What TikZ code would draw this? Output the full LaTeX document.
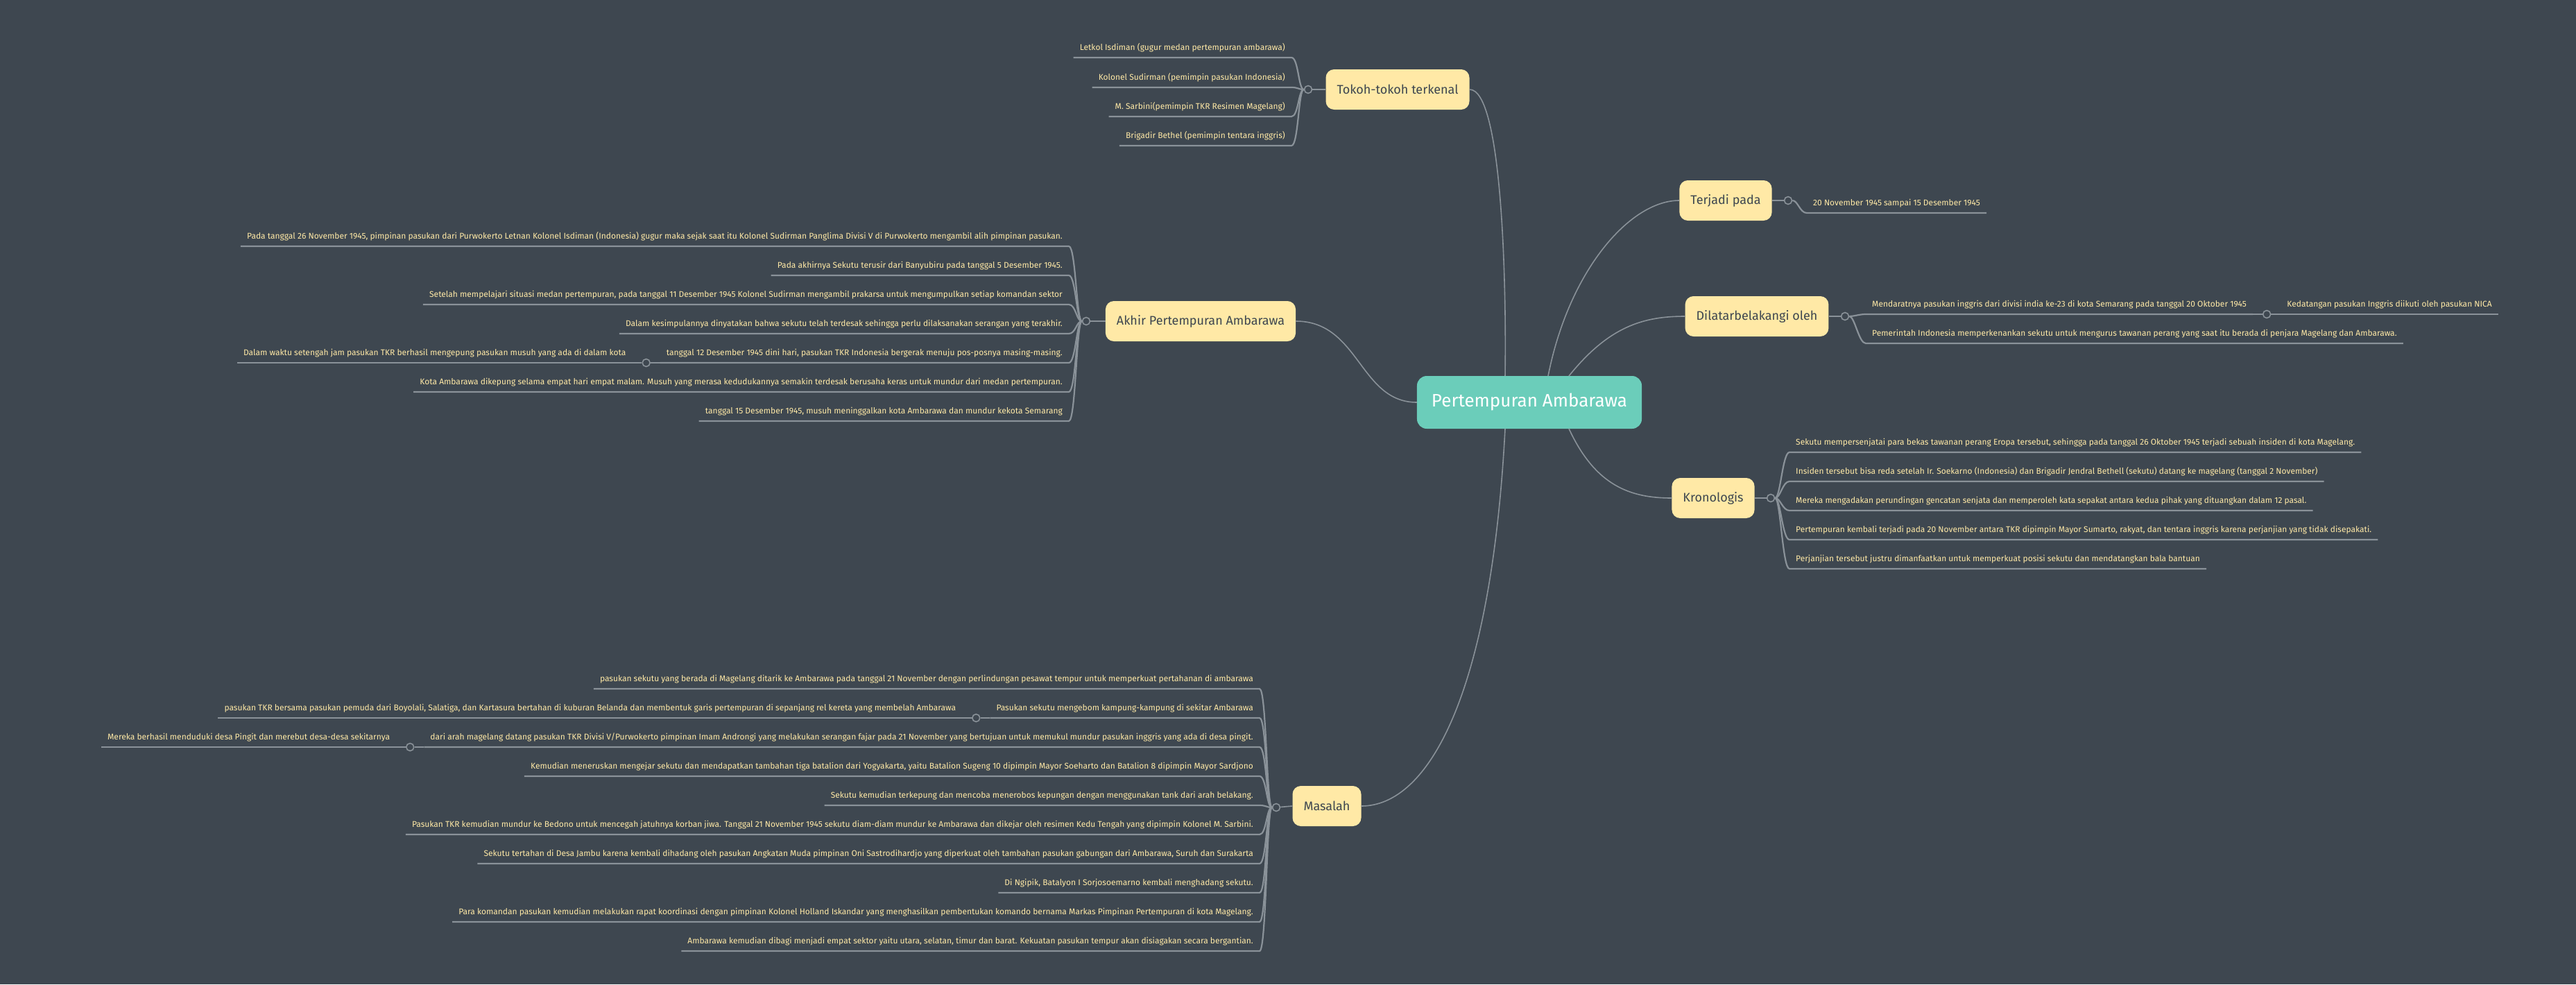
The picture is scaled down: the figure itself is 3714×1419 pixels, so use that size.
\documentclass[tikz,border=0pt]{standalone}
\usepackage{fontspec}
\setmainfont{Fira Sans}
\usetikzlibrary{calc}
\definecolor{bg}{HTML}{3E4750}
\definecolor{ln}{HTML}{8A9299}
\definecolor{mn}{HTML}{FFE9A6}
\definecolor{tl}{HTML}{6BCDBA}
\begin{document}
\begin{tikzpicture}[x=1pt,y=-1pt,
 leafL/.style={anchor=south east,inner xsep=9pt,inner ysep=8pt,text=mn,font=\fontsize{12}{14}\selectfont},
 leafR/.style={anchor=south west,inner xsep=9pt,inner ysep=8pt,text=mn,font=\fontsize{12}{14}\selectfont},
 mainbox/.style={fill=mn,text=bg,rounded corners=12pt,minimum height=58pt,inner xsep=16pt,font=\fontsize{18}{20}\selectfont},
 junc/.style={circle,draw=ln,fill=bg,line width=1.6pt,inner sep=0pt,minimum size=11pt},
 ul/.style={draw=ln,line width=2.2pt},
 br/.style={draw=ln,line width=1.6pt}]
\fill[bg] (0,0) rectangle (3714,1419);
\useasboundingbox (0,0) rectangle (3714,1419);
% centre
\node[fill=tl,text=white,rounded corners=14pt,minimum height=76pt,inner xsep=21pt,font=\fontsize{26}{28}\selectfont] (c) at (2205,580) {Pertempuran Ambarawa};
% main nodes
\node[mainbox] (tok) at (2015,129) {Tokoh-tokoh terkenal};
\node[mainbox] (ter) at (2488,289) {Terjadi pada};
\node[mainbox] (dil) at (2533,456) {Dilatarbelakangi oleh};
\node[mainbox] (kro) at (2470,718) {Kronologis};
\node[mainbox] (akh) at (1731,463) {Akhir Pertempuran Ambarawa};
\node[mainbox] (mas) at (1913,1162) {Masalah};
% branches from centre
\coordinate (c1) at (2170,542);\coordinate (c2) at (2232,542);\coordinate (c3) at (2262,542);
\coordinate (c4) at (2262,618);\coordinate (c5) at (2170,618);
\draw[br] (tok.east) .. controls (2165,129) and (2172,400) .. (c1);
\draw[br] (c2) .. controls (2262,390) and (2350,289) .. (ter.west);
\draw[br] (c3) .. controls (2320,470) and (2370,456) .. (dil.west);
\draw[br] (c4) .. controls (2300,700) and (2350,718) .. (kro.west);
\draw[br] (c.west) .. controls (1960,580) and (1960,463) .. (akh.east);
\draw[br] (c5) .. controls (2150,1000) and (2060,1162) .. (mas.east);
% helper macros
\newcommand{\linkL}[2]{\draw[ul] (#1) .. controls ($(#1)+(-14,0)$) and ($(#2.south east)+(10,0)$) .. (#2.south east) -- (#2.south west);}
\newcommand{\linkR}[2]{\draw[ul] (#1) .. controls ($(#1)+(14,0)$) and ($(#2.south west)+(-10,0)$) .. (#2.south west) -- (#2.south east);}
% ---------- Tokoh
\node[junc] (jt) at (1886,129) {};
\draw[br] (tok.west) -- (jt);
\node[leafL] (t1) at (1862,83) {Letkol Isdiman (gugur medan pertempuran ambarawa)};
\node[leafL] (t2) at (1862,126) {Kolonel Sudirman (pemimpin pasukan Indonesia)};
\node[leafL] (t3) at (1862,168) {M. Sarbini(pemimpin TKR Resimen Magelang)};
\node[leafL] (t4) at (1862,210) {Brigadir Bethel (pemimpin tentara inggris)};
\foreach \n in {t1,t2,t3,t4}{\linkL{jt}{\n}}
% ---------- Terjadi
\node[junc] (jr) at (2578,289) {};
\draw[br] (ter.east) -- (jr);
\node[leafR] (r1) at (2605,307) {20 November 1945 sampai 15 Desember 1945};
\linkR{jr}{r1}
% ---------- Dilatarbelakangi
\node[junc] (jd) at (2660,456) {};
\draw[br] (dil.east) -- (jd);
\node[leafR] (d1) at (2690,453) {Mendaratnya pasukan inggris dari divisi india ke-23 di kota Semarang pada tanggal 20 Oktober 1945};
\node[leafR] (d2) at (2690,495) {Pemerintah Indonesia memperkenankan sekutu untuk mengurus tawanan perang yang saat itu berada di penjara Magelang dan Ambarawa.};
\linkR{jd}{d1}\linkR{jd}{d2}
\node[junc] (jd2) at ($(d1.south east)+(20,0)$) {};
\draw[ul] (d1.south east) -- (jd2);
\node[leafR] (d11) at ($(jd2)+(20,0)$) {Kedatangan pasukan Inggris diikuti oleh pasukan NICA};
\draw[ul] (jd2) -- (d11.south west) -- (d11.south east);
% ---------- Kronologis
\node[junc] (jk) at (2553,718) {};
\draw[br] (kro.east) -- (jk);
\node[leafR] (k1) at (2580,652) {Sekutu mempersenjatai para bekas tawanan perang Eropa tersebut, sehingga pada tanggal 26 Oktober 1945 terjadi sebuah insiden di kota Magelang.};
\node[leafR] (k2) at (2580,694) {Insiden tersebut bisa reda setelah Ir. Soekarno (Indonesia) dan Brigadir Jendral Bethell (sekutu) datang ke magelang (tanggal 2 November)};
\node[leafR] (k3) at (2580,736) {Mereka mengadakan perundingan gencatan senjata dan memperoleh kata sepakat antara kedua pihak yang dituangkan dalam 12 pasal.};
\node[leafR] (k4) at (2580,778) {Pertempuran kembali terjadi pada 20 November antara TKR dipimpin Mayor Sumarto, rakyat, dan tentara inggris karena perjanjian yang tidak disepakati.};
\node[leafR] (k5) at (2580,820) {Perjanjian tersebut justru dimanfaatkan untuk memperkuat posisi sekutu dan mendatangkan bala bantuan};
\foreach \n in {k1,k2,k3,k4,k5}{\linkR{jk}{\n}}
% ---------- Akhir
\node[junc] (ja) at (1566,463) {};
\draw[br] (akh.west) -- (ja);
\node[leafL] (a1) at (1541,355) {Pada tanggal 26 November 1945, pimpinan pasukan dari Purwokerto Letnan Kolonel Isdiman (Indonesia) gugur maka sejak saat itu Kolonel Sudirman Panglima Divisi V di Purwokerto mengambil alih pimpinan pasukan.};
\node[leafL] (a2) at (1541,397) {Pada akhirnya Sekutu terusir dari Banyubiru pada tanggal 5 Desember 1945.};
\node[leafL] (a3) at (1541,439) {Setelah mempelajari situasi medan pertempuran, pada tanggal 11 Desember 1945 Kolonel Sudirman mengambil prakarsa untuk mengumpulkan setiap komandan sektor};
\node[leafL] (a4) at (1541,481) {Dalam kesimpulannya dinyatakan bahwa sekutu telah terdesak sehingga perlu dilaksanakan serangan yang terakhir.};
\node[leafL] (a5) at (1541,523) {tanggal 12 Desember 1945 dini hari, pasukan TKR Indonesia bergerak menuju pos-posnya masing-masing.};
\node[leafL] (a6) at (1541,565) {Kota Ambarawa dikepung selama empat hari empat malam. Musuh yang merasa kedudukannya semakin terdesak berusaha keras untuk mundur dari medan pertempuran.};
\node[leafL] (a7) at (1541,607) {tanggal 15 Desember 1945, musuh meninggalkan kota Ambarawa dan mundur kekota Semarang};
\foreach \n in {a1,a2,a3,a4,a5,a6,a7}{\linkL{ja}{\n}}
\node[junc] (ja2) at ($(a5.south west)+(-20,0)$) {};
\draw[ul] (a5.south west) -- (ja2);
\node[leafL] (a51) at ($(ja2)+(-20,0)$) {Dalam waktu setengah jam pasukan TKR berhasil mengepung pasukan musuh yang ada di dalam kota};
\draw[ul] (ja2) -- (a51.south east) -- (a51.south west);
% ---------- Masalah
\node[junc] (jm) at (1840,1164) {};
\draw[br] (mas.west) -- (jm);
\node[leafL] (m1) at (1816,993) {pasukan sekutu yang berada di Magelang ditarik ke Ambarawa pada tanggal 21 November dengan perlindungan pesawat tempur untuk memperkuat pertahanan di ambarawa};
\node[leafL] (m2) at (1816,1035) {Pasukan sekutu mengebom kampung-kampung di sekitar Ambarawa};
\node[leafL] (m3) at (1816,1077) {dari arah magelang datang pasukan TKR Divisi V/Purwokerto pimpinan Imam Androngi yang melakukan serangan fajar pada 21 November yang bertujuan untuk memukul mundur pasukan inggris yang ada di desa pingit.};
\node[leafL] (m4) at (1816,1119) {Kemudian meneruskan mengejar sekutu dan mendapatkan tambahan tiga batalion dari Yogyakarta, yaitu Batalion Sugeng 10 dipimpin Mayor Soeharto dan Batalion 8 dipimpin Mayor Sardjono};
\node[leafL] (m5) at (1816,1161) {Sekutu kemudian terkepung dan mencoba menerobos kepungan dengan menggunakan tank dari arah belakang.};
\node[leafL] (m6) at (1816,1203) {Pasukan TKR kemudian mundur ke Bedono untuk mencegah jatuhnya korban jiwa. Tanggal 21 November 1945 sekutu diam-diam mundur ke Ambarawa dan dikejar oleh resimen Kedu Tengah yang dipimpin Kolonel M. Sarbini.};
\node[leafL] (m7) at (1816,1245) {Sekutu tertahan di Desa Jambu karena kembali dihadang oleh pasukan Angkatan Muda pimpinan Oni Sastrodihardjo yang diperkuat oleh tambahan pasukan gabungan dari Ambarawa, Suruh dan Surakarta};
\node[leafL] (m8) at (1816,1287) {Di Ngipik, Batalyon I Sorjosoemarno kembali menghadang sekutu.};
\node[leafL] (m9) at (1816,1329) {Para komandan pasukan kemudian melakukan rapat koordinasi dengan pimpinan Kolonel Holland Iskandar yang menghasilkan pembentukan komando bernama Markas Pimpinan Pertempuran di kota Magelang.};
\node[leafL] (m10) at (1816,1371) {Ambarawa kemudian dibagi menjadi empat sektor yaitu utara, selatan, timur dan barat. Kekuatan pasukan tempur akan disiagakan secara bergantian.};
\foreach \n in {m1,m2,m3,m4,m5,m6,m7,m8,m9,m10}{\linkL{jm}{\n}}
\node[junc] (jm2) at ($(m2.south west)+(-20,0)$) {};
\draw[ul] (m2.south west) -- (jm2);
\node[leafL] (m21) at ($(jm2)+(-20,0)$) {pasukan TKR bersama pasukan pemuda dari Boyolali, Salatiga, dan Kartasura bertahan di kuburan Belanda dan membentuk garis pertempuran di sepanjang rel kereta yang membelah Ambarawa};
\draw[ul] (jm2) -- (m21.south east) -- (m21.south west);
\node[junc] (jm3) at ($(m3.south west)+(-20,0)$) {};
\draw[ul] (m3.south west) -- (jm3);
\node[leafL] (m31) at ($(jm3)+(-20,0)$) {Mereka berhasil menduduki desa Pingit dan merebut desa-desa sekitarnya};
\draw[ul] (jm3) -- (m31.south east) -- (m31.south west);
\end{tikzpicture}
\end{document}
